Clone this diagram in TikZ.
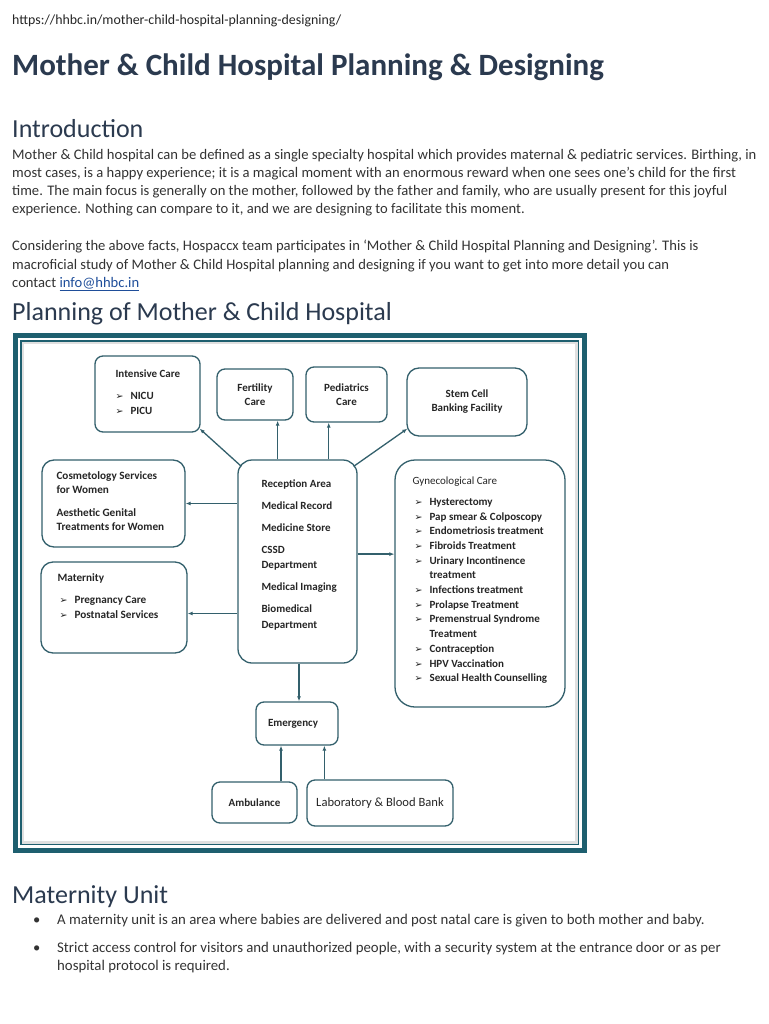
\documentclass[tikz,border=0pt]{standalone}
\usepackage{fontspec}
\setmainfont{Carlito}
\newfontfamily\symfont{DejaVu Sans}
\usepackage{xcolor}
\usetikzlibrary{positioning, calc, arrows.meta}
\definecolor{headblue}{RGB}{43, 58, 79}
\definecolor{bodygray}{RGB}{51, 51, 51}
\definecolor{frameteal}{RGB}{30, 95, 111}
\definecolor{boxteal}{RGB}{51, 96, 108}
\definecolor{linkblue}{RGB}{31, 78, 154}
\newcommand{\arrbul}{\makebox[15pt][l]{\symfont\fontsize{9.5}{9.5}\selectfont\char"27A2}}
\tikzset{
    pageline/.style={
        anchor=base west, inner sep=0pt, text=bodygray, font=\fontsize{14.6}{18}\selectfont
    },
    heading/.style={
        anchor=base west, inner sep=0pt, text=headblue, font=\fontsize{26}{28}\selectfont
    },
    roundbox/.style={
        draw=boxteal, line width=1.3pt, rounded corners=8pt, inner sep=2pt, align=center,
        font=\fontsize{11}{14}\selectfont\bfseries, text=black!85
    },
    boxtext/.style={
        anchor=north west, inner sep=0pt, align=left, text=black!85
    },
    conn/.style={
        -{Latex[length=5pt,width=4pt]}, line width=1.3pt, boxteal
    }
}

\begin{document}
\begin{tikzpicture}[x=1pt, y=-1pt]
    \useasboundingbox (0,0) rectangle (768,1024);
    \fill[white] (0,0) rectangle (768,1024);

    % ==========================================
    % PAGE HEADER
    % ==========================================
    \node[pageline, font=\fontsize{13.9}{15}\selectfont, text=black!85] (url) at (12,25) {https://hhbc.in/mother-child-hospital-planning-designing/};
    \node[heading, font=\fontsize{31}{34}\selectfont\bfseries] (title) at (12,76) {Mother \& Child Hospital Planning \& Designing};

    \node[heading] (intro) at (12,138) {Introduction};
    \node[pageline] (p1) at (12,160) {Mother \& Child hospital can be defined as a single specialty hospital which provides maternal \& pediatric services. Birthing, in};
    \node[pageline] (p2) at (12,178) {most cases, is a happy experience; it is a magical moment with an enormous reward when one sees one’s child for the first};
    \node[pageline] (p3) at (12,196) {time. The main focus is generally on the mother, followed by the father and family, who are usually present for this joyful};
    \node[pageline] (p4) at (12,214) {experience. Nothing can compare to it, and we are designing to facilitate this moment.};
    \node[pageline] (p5) at (12,251) {Considering the above facts, Hospaccx team participates in ‘Mother \& Child Hospital Planning and Designing’. This is};
    \node[pageline] (p6) at (12,269) {macroficial study of Mother \& Child Hospital planning and designing if you want to get into more detail you can};
    \node[pageline] (p7) at (12,287) {contact \textcolor{linkblue}{\underline{info@hhbc.in}}};

    \node[heading] (planning) at (12,320) {Planning of Mother \& Child Hospital};

    % ==========================================
    % FRAME
    % ==========================================
    \draw[frameteal, line width=5pt] (15.5,335.5) rectangle (584,850);
    \draw[frameteal, line width=1.2pt] (21,341) rectangle (578.5,844.5);
    \draw[black!12, line width=2.5pt] (23,343) rectangle (576.5,842.5);

    % ==========================================
    % BOXES
    % ==========================================
    \node[roundbox, minimum width=105pt, minimum height=76pt] (icu) at (147.5,394) {};
    \node[boxtext, font=\fontsize{11}{15}\selectfont\bfseries] (icutxt) at ([shift={(21,14.5)}]icu.north west)
        {Intensive Care\\[7pt] \arrbul NICU\\ \arrbul PICU};

    \node[roundbox, minimum width=76pt, minimum height=51pt] (fert) at (255,394.5) {Fertility\\Care};
    \node[roundbox, minimum width=81pt, minimum height=55pt] (ped) at (346.5,394.5) {Pediatrics\\Care};
    \node[roundbox, rounded corners=12pt, minimum width=120pt, minimum height=68pt] (stem) at (467,402) {Stem Cell\\Banking Facility};

    \node[roundbox, rounded corners=12pt, minimum width=143pt, minimum height=87pt] (cosm) at (113.5,503.5) {};
    \node[boxtext, font=\fontsize{11.2}{14}\selectfont\bfseries] (cosmtxt) at ([shift={(15,12.5)}]cosm.north west)
        {Cosmetology Services\\for Women\\[9pt]Aesthetic Genital\\Treatments for Women};

    \node[roundbox, rounded corners=14pt, minimum width=119pt, minimum height=203pt] (hub) at (297.5,561.5) {};
    \node[boxtext, font=\fontsize{11}{15.5}\selectfont\bfseries] (hubtxt) at ([shift={(24,20.5)}]hub.north west)
        {Reception Area\\[6.5pt]Medical Record\\[6.5pt]Medicine Store\\[6pt]CSSD\\Department\\[6.5pt]Medical Imaging\\[6.5pt]Biomedical\\Department};

    \node[roundbox, rounded corners=20pt, minimum width=170pt, minimum height=247pt] (gyn) at (480,583.5) {};
    \node[boxtext, font=\fontsize{11}{14.7}\selectfont\bfseries] (gyntxt) at ([shift={(18,17.5)}]gyn.north west)
        {{\mdseries Gynecological Care}\\[6pt]
        \hspace*{2pt}\arrbul Hysterectomy\\
        \hspace*{2pt}\arrbul Pap smear \& Colposcopy\\
        \hspace*{2pt}\arrbul Endometriosis treatment\\
        \hspace*{2pt}\arrbul Fibroids Treatment\\
        \hspace*{2pt}\arrbul Urinary Incontinence\\
        \hspace*{17pt}treatment\\
        \hspace*{2pt}\arrbul Infections treatment\\
        \hspace*{2pt}\arrbul Prolapse Treatment\\
        \hspace*{2pt}\arrbul Premenstrual Syndrome\\
        \hspace*{17pt}Treatment\\
        \hspace*{2pt}\arrbul Contraception\\
        \hspace*{2pt}\arrbul HPV Vaccination\\
        \hspace*{2pt}\arrbul Sexual Health Counselling};

    \node[roundbox, rounded corners=12pt, minimum width=146pt, minimum height=91pt] (mat) at (114,607.5) {};
    \node[boxtext, font=\fontsize{11.2}{15}\selectfont\bfseries] (mattxt) at ([shift={(17,12.5)}]mat.north west)
        {Maternity\\[7pt]\hspace*{2pt}\arrbul Pregnancy Care\\\hspace*{2pt}\arrbul Postnatal Services};

    \node[roundbox, minimum width=82pt, minimum height=43pt] (emer) at (297,723.5) {Emergency\hspace*{8pt}};
    \node[roundbox, minimum width=85pt, minimum height=41pt] (amb) at (254.5,802.5) {Ambulance};
    \node[roundbox, minimum width=146pt, minimum height=46pt, font=\fontsize{12.6}{14}\selectfont] (lab) at (380,803) {Laboratory \& Blood Bank};

    % ==========================================
    % CONNECTORS
    % ==========================================
    \draw[conn] ([shift={(4,7)}]hub.north west) -- ([shift={(-1,-4)}]icu.south east);
    \draw[conn] (hub.101) -- (hub.101 |- fert.south);
    \draw[conn] (hub.73) -- (hub.73 |- ped.south);
    \draw[conn] ([shift={(-4,7)}]hub.north east) -- ([shift={(1,-8)}]stem.south west);
    \draw[conn] (hub.west |- cosm.east) -- (cosm.east);
    \coordinate (matin) at ([yshift=-6pt]mat.east);
    \draw[conn] (hub.west |- matin) -- (matin);
    \draw[conn] (hub.7) -- (hub.7 -| gyn.west);
    \draw[conn] ([xshift=1.5pt]hub.south) -- ([xshift=1.5pt]hub.south |- emer.north);
    \coordinate (ambout) at ([xshift=26.5pt]amb.north);
    \draw[conn] (ambout) -- (ambout |- emer.south);
    \coordinate (labout) at ([xshift=18pt]lab.north west);
    \draw[conn] (labout) -- (labout |- emer.south);

    % ==========================================
    % MATERNITY UNIT
    % ==========================================
    \node[heading] (unit) at (12,903) {Maternity Unit};
    \node[pageline] (dot1) at (33,924) {•};
    \node[pageline, font=\fontsize{14.8}{18}\selectfont] (u1) at (57,924) {A maternity unit is an area where babies are delivered and post natal care is given to both mother and baby.};
    \node[pageline] (dot2) at (33,952) {•};
    \node[pageline, font=\fontsize{14.8}{18}\selectfont] (u2) at (57,952) {Strict access control for visitors and unauthorized people, with a security system at the entrance door or as per};
    \node[pageline, font=\fontsize{14.8}{18}\selectfont] (u3) at (57,970) {hospital protocol is required.};
\end{tikzpicture}
\end{document}
